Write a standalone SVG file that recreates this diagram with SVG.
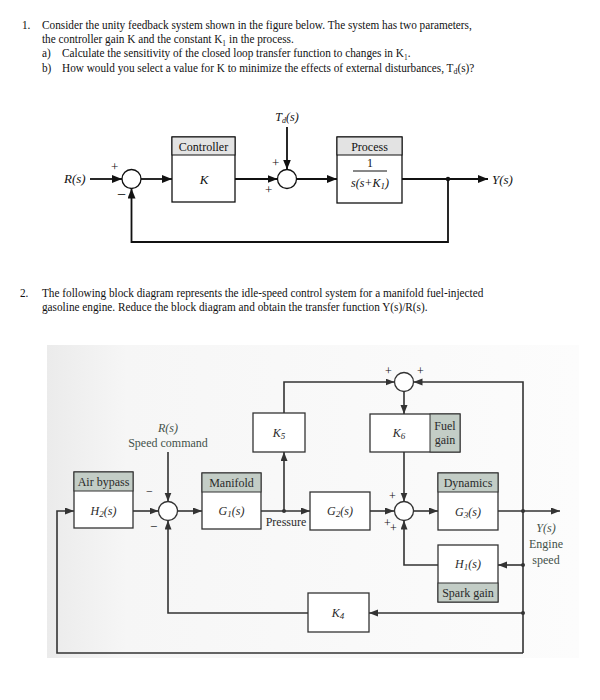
<svg xmlns="http://www.w3.org/2000/svg" width="600" height="700" viewBox="0 0 600 700">
<defs>
<marker id="a1" markerUnits="userSpaceOnUse" markerWidth="11" markerHeight="9" refX="10" refY="4" orient="auto"><path d="M0,0 L10,4 L0,8 z" fill="#111"/></marker>
<marker id="a2" markerUnits="userSpaceOnUse" markerWidth="10" markerHeight="8" refX="9" refY="3.5" orient="auto"><path d="M0,0 L9,3.5 L0,7 z" fill="#333"/></marker>
<linearGradient id="bg" x1="0" y1="0" x2="1" y2="0"><stop offset="0" stop-color="#ebebeb"/><stop offset="0.15" stop-color="#f6f6f6"/><stop offset="1" stop-color="#fcfcfc"/></linearGradient>
</defs>
<style>
text{font-family:"Liberation Serif","Times New Roman",serif;fill:#111}
.q{font-size:13px}
.m{font-style:italic}
.d1 path,.d1 line{fill:none;stroke:#111;stroke-width:1.8}
.b1{fill:#fff;stroke:#111;stroke-width:1.3}
.h1{fill:#e3e3e3;stroke:#111;stroke-width:1}
.s1{fill:#fff;stroke:#111;stroke-width:1.3}
.c1 path{marker-end:url(#a1)}
.d2 path{fill:none;stroke:#333;stroke-width:1.6}
.b2{fill:#fff;stroke:#333;stroke-width:1.3}
.h2{fill:#c3cdc6;stroke:#333;stroke-width:1}
.s2{fill:#fff;stroke:#333;stroke-width:1.3}
.l2{font-size:12px;text-anchor:middle;fill:#2a2a2a}
.g2{font-size:12px;text-anchor:middle;fill:#44524a}
.t{text-anchor:middle}
</style>
<rect width="600" height="700" fill="#fff"/>

<!-- Question 1 text -->
<g id="q1text" class="q" transform="scale(0.866,1)">
<text x="25.4" y="29">1.</text>
<text x="48.5" y="29">Consider the unity feedback system shown in the figure below. The system has two parameters,</text>
<text x="48.5" y="43">the controller gain K and the constant K₁ in the process.</text>
<text x="48.5" y="57">a)</text>
<text x="71.6" y="57">Calculate the sensitivity of the closed loop transfer function to changes in K₁.</text>
<text x="48.5" y="72">b)</text>
<text x="71.6" y="72">How would you select a value for K to minimize the effects of external disturbances, T<tspan font-size="9" dy="2">d</tspan><tspan dy="-2">(s)?</tspan></text>
</g>

<!-- Diagram 1 -->
<g class="d1">
<g id="sum1a"><circle class="s1" cx="131.5" cy="179" r="9.5"/><text x="111" y="171" font-size="13">+</text><text x="117" y="200" font-size="16">−</text></g>
<g id="controller"><rect class="b1" x="172" y="137" width="63" height="65"/><rect class="h1" x="172" y="137" width="63" height="18"/><text class="t" x="203.5" y="150.5" font-size="12">Controller</text><text class="t m" x="204" y="184" font-size="13">K</text></g>
<g id="sum2a"><circle class="s1" cx="287" cy="179" r="9.5"/><text x="272" y="167" font-size="13">+</text><text x="265" y="194" font-size="13">+</text></g>
<g id="process"><rect class="b1" x="337" y="137" width="65" height="66"/><rect class="h1" x="337" y="137" width="65" height="18"/><text class="t" x="369.5" y="151" font-size="12">Process</text><text class="t" x="370" y="167" font-size="12">1</text><line x1="353" y1="171" x2="387" y2="171" style="stroke-width:1"/><text class="t m" x="370" y="187" font-size="12">s(s+K<tspan font-size="9" dy="2">1</tspan><tspan dy="-2">)</tspan></text></g>
<g id="labels1"><text class="m" x="64" y="183" font-size="13">R(s)</text><text class="m" x="492" y="184" font-size="13">Y(s)</text><text class="m t" x="287" y="121" font-size="12">T<tspan font-size="8" dy="2">d</tspan><tspan dy="-2">(s)</tspan></text></g>
<g id="conn1" class="c1">
<path d="M90,179 H122"/>
<path d="M141,179 H172"/>
<path d="M235,179 H277.5"/>
<path d="M287,127 V169.5"/>
<path d="M296.5,179 H337"/>
<path d="M402,179 H488"/>
<path d="M448,179 V242 H131.5 V188.5"/>
<circle cx="448" cy="179" r="2.2" fill="#111"/>
</g>
</g>

<!-- Question 2 text -->
<g id="q2text" class="q" transform="scale(0.866,1)">
<text x="23.1" y="297">2.</text>
<text x="48.5" y="297">The following block diagram represents the idle-speed control system for a manifold fuel-injected</text>
<text x="48.5" y="311">gasoline engine. Reduce the block diagram and obtain the transfer function Y(s)/R(s).</text>
</g>

<!-- Diagram 2 -->
<rect x="47" y="345" width="532" height="313" fill="url(#bg)"/>
<g class="d2">
<g id="conn2" style="marker-end:url(#a2)">
<path d="M523,653 V382 H413.5"/>
<path d="M284,413 V382 H394.5"/>
<path d="M404,391 V414"/>
<path d="M404,452 V501.5"/>
<path d="M370,511 H394"/>
<path d="M413.5,511 H438"/>
<path d="M498,511 H560"/>
<path d="M523,565 H498"/>
<path d="M438,565 H404 V520.5"/>
<path d="M523,613 H369"/>
<path d="M308,613 H168 V520.5"/>
<path d="M523,653 H57 V511 H74"/>
<path d="M133,511 H158.5"/>
<path d="M168,452 V501.5"/>
<path d="M177.5,511 H202"/>
<path d="M261,511 H310"/>
<path d="M284,511 V452"/>
</g>
<circle cx="284" cy="511" r="2" fill="#333"/>
<circle cx="523" cy="511" r="2" fill="#333"/>
<circle cx="523" cy="565" r="2" fill="#333"/>
<circle cx="523" cy="613" r="2" fill="#333"/>

<g id="airbypass"><rect class="b2" x="74" y="472" width="59" height="56"/><rect class="h2" x="74" y="472" width="59" height="19"/><text class="l2" x="103.5" y="485.5">Air bypass</text><text class="l2 m" x="103.5" y="515">H<tspan font-size="9" dy="2">2</tspan><tspan dy="-2">(s)</tspan></text></g>
<g id="sumL"><circle class="s2" cx="168" cy="511" r="9.5"/><text x="147" y="503" font-size="14" fill="#333">‾</text><text x="150" y="531" font-size="13" fill="#333">−</text></g>
<g id="manifold"><rect class="b2" x="202" y="473" width="59" height="56"/><rect class="h2" x="202" y="473" width="59" height="19"/><text class="l2" x="231.5" y="486.5">Manifold</text><text class="l2 m" x="231.5" y="515">G<tspan font-size="9" dy="2">1</tspan><tspan dy="-2">(s)</tspan></text></g>
<g id="k5"><rect class="b2" x="253" y="413" width="52" height="39"/><text class="l2 m" x="279" y="437">K<tspan font-size="9" dy="2">5</tspan></text></g>
<g id="g2"><rect class="b2" x="310" y="492" width="60" height="38"/><text class="l2 m" x="340" y="515">G<tspan font-size="9" dy="2">2</tspan><tspan dy="-2">(s)</tspan></text></g>
<g id="sumTop"><circle class="s2" cx="404" cy="382" r="9.5"/><text x="385" y="375" font-size="12" fill="#333">+</text><text x="417" y="375" font-size="12" fill="#333">+</text></g>
<g id="k6"><rect class="b2" x="370" y="414" width="90" height="38"/><rect class="h2" x="430" y="414" width="30" height="38"/><text class="l2 m" x="399" y="437">K<tspan font-size="9" dy="2">6</tspan></text><text class="l2" x="445" y="430">Fuel</text><text class="l2" x="445" y="444">gain</text></g>
<g id="sumR"><circle class="s2" cx="404" cy="511" r="9.5"/><text x="389" y="500" font-size="12" fill="#333">+</text><text x="384" y="527" font-size="12" fill="#333">+</text><text x="390" y="532" font-size="12" fill="#333">+</text></g>
<g id="dynamics"><rect class="b2" x="438" y="473" width="60" height="57"/><rect class="h2" x="438" y="473" width="60" height="19"/><text class="l2" x="468" y="486.5">Dynamics</text><text class="l2 m" x="468" y="516">G<tspan font-size="9" dy="2">3</tspan><tspan dy="-2">(s)</tspan></text></g>
<g id="sparkgain"><rect class="b2" x="438" y="545" width="60" height="57"/><rect class="h2" x="438" y="583" width="60" height="19"/><text class="l2 m" x="468" y="568">H<tspan font-size="9" dy="2">1</tspan><tspan dy="-2">(s)</tspan></text><text class="l2" x="468" y="597">Spark gain</text></g>
<g id="k4"><rect class="b2" x="308" y="593" width="61" height="39"/><text class="l2 m" x="338" y="617">K<tspan font-size="9" dy="2">4</tspan></text></g>
<g id="labels2"><text class="g2 m" x="168" y="432">R(s)</text><text class="g2" x="168" y="447">Speed command</text><text class="l2" x="286" y="526">Pressure</text><text class="g2 m" x="546" y="532">Y(s)</text><text class="g2" x="546" y="548">Engine</text><text class="g2" x="546" y="564">speed</text></g>
</g>
</svg>
